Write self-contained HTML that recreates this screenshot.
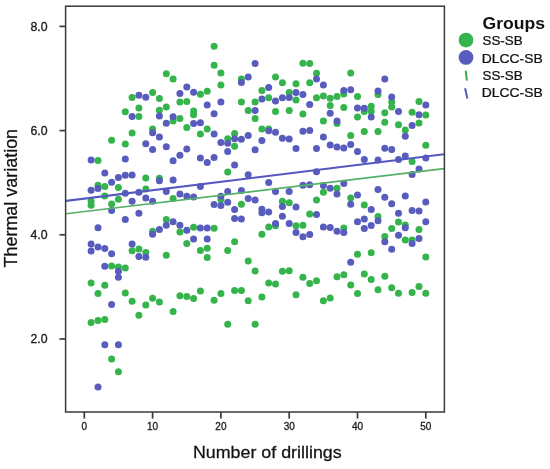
<!DOCTYPE html>
<html><head><meta charset="utf-8"><style>
html,body{margin:0;padding:0;background:#fff;}
body{width:550px;height:469px;overflow:hidden;}
svg{display:block;font-family:"Liberation Sans",Arial,sans-serif;}
</style></head><body>
<svg width="550" height="469" viewBox="0 0 550 469">
<rect width="550" height="469" fill="#fff"/>
<g fill="#34b44b">
<circle cx="91.1" cy="201.3" r="3.5"/>
<circle cx="91.1" cy="205.3" r="3.5"/>
<circle cx="91.1" cy="282.9" r="3.5"/>
<circle cx="91.1" cy="322.5" r="3.5"/>
<circle cx="98.0" cy="160.5" r="3.5"/>
<circle cx="98.0" cy="185.3" r="3.5"/>
<circle cx="98.0" cy="293.5" r="3.5"/>
<circle cx="98.0" cy="320.5" r="3.5"/>
<circle cx="104.8" cy="186.5" r="3.5"/>
<circle cx="104.8" cy="195.9" r="3.5"/>
<circle cx="104.8" cy="285.3" r="3.5"/>
<circle cx="104.8" cy="319.6" r="3.5"/>
<circle cx="111.6" cy="140.2" r="3.5"/>
<circle cx="111.6" cy="203.9" r="3.5"/>
<circle cx="111.6" cy="265.9" r="3.5"/>
<circle cx="111.6" cy="358.9" r="3.5"/>
<circle cx="118.4" cy="187.6" r="3.5"/>
<circle cx="118.4" cy="199.3" r="3.5"/>
<circle cx="118.4" cy="267.1" r="3.5"/>
<circle cx="118.4" cy="371.7" r="3.5"/>
<circle cx="125.3" cy="111.8" r="3.5"/>
<circle cx="125.3" cy="144.1" r="3.5"/>
<circle cx="125.3" cy="267.9" r="3.5"/>
<circle cx="125.3" cy="293.0" r="3.5"/>
<circle cx="132.1" cy="97.4" r="3.5"/>
<circle cx="132.1" cy="133.0" r="3.5"/>
<circle cx="132.1" cy="250.8" r="3.5"/>
<circle cx="132.1" cy="301.2" r="3.5"/>
<circle cx="138.9" cy="108.0" r="3.5"/>
<circle cx="138.9" cy="116.5" r="3.5"/>
<circle cx="138.9" cy="249.1" r="3.5"/>
<circle cx="138.9" cy="315.3" r="3.5"/>
<circle cx="145.8" cy="177.9" r="3.5"/>
<circle cx="145.8" cy="188.9" r="3.5"/>
<circle cx="145.8" cy="252.6" r="3.5"/>
<circle cx="145.8" cy="304.9" r="3.5"/>
<circle cx="152.6" cy="92.6" r="3.5"/>
<circle cx="152.6" cy="129.1" r="3.5"/>
<circle cx="152.6" cy="231.2" r="3.5"/>
<circle cx="152.6" cy="298.3" r="3.5"/>
<circle cx="159.4" cy="98.6" r="3.5"/>
<circle cx="159.4" cy="110.3" r="3.5"/>
<circle cx="159.4" cy="178.2" r="3.5"/>
<circle cx="159.4" cy="302.0" r="3.5"/>
<circle cx="166.3" cy="73.8" r="3.5"/>
<circle cx="166.3" cy="107.1" r="3.5"/>
<circle cx="166.3" cy="219.6" r="3.5"/>
<circle cx="166.3" cy="255.3" r="3.5"/>
<circle cx="173.1" cy="78.9" r="3.5"/>
<circle cx="173.1" cy="121.1" r="3.5"/>
<circle cx="173.1" cy="198.4" r="3.5"/>
<circle cx="173.1" cy="311.4" r="3.5"/>
<circle cx="179.9" cy="102.0" r="3.5"/>
<circle cx="179.9" cy="118.5" r="3.5"/>
<circle cx="179.9" cy="232.0" r="3.5"/>
<circle cx="179.9" cy="295.7" r="3.5"/>
<circle cx="186.8" cy="101.6" r="3.5"/>
<circle cx="186.8" cy="127.6" r="3.5"/>
<circle cx="186.8" cy="243.6" r="3.5"/>
<circle cx="186.8" cy="296.4" r="3.5"/>
<circle cx="193.6" cy="111.0" r="3.5"/>
<circle cx="193.6" cy="114.7" r="3.5"/>
<circle cx="193.6" cy="227.3" r="3.5"/>
<circle cx="193.6" cy="298.6" r="3.5"/>
<circle cx="200.4" cy="94.3" r="3.5"/>
<circle cx="200.4" cy="133.9" r="3.5"/>
<circle cx="200.4" cy="250.5" r="3.5"/>
<circle cx="200.4" cy="291.0" r="3.5"/>
<circle cx="207.2" cy="91.2" r="3.5"/>
<circle cx="207.2" cy="129.1" r="3.5"/>
<circle cx="207.2" cy="248.2" r="3.5"/>
<circle cx="207.2" cy="257.4" r="3.5"/>
<circle cx="214.1" cy="46.2" r="3.5"/>
<circle cx="214.1" cy="65.3" r="3.5"/>
<circle cx="214.1" cy="228.3" r="3.5"/>
<circle cx="214.1" cy="300.3" r="3.5"/>
<circle cx="220.9" cy="73.0" r="3.5"/>
<circle cx="220.9" cy="84.9" r="3.5"/>
<circle cx="220.9" cy="199.6" r="3.5"/>
<circle cx="220.9" cy="293.5" r="3.5"/>
<circle cx="227.7" cy="138.7" r="3.5"/>
<circle cx="227.7" cy="171.9" r="3.5"/>
<circle cx="227.7" cy="250.5" r="3.5"/>
<circle cx="227.7" cy="324.2" r="3.5"/>
<circle cx="234.6" cy="133.4" r="3.5"/>
<circle cx="234.6" cy="146.3" r="3.5"/>
<circle cx="234.6" cy="241.8" r="3.5"/>
<circle cx="234.6" cy="290.4" r="3.5"/>
<circle cx="241.4" cy="78.9" r="3.5"/>
<circle cx="241.4" cy="102.0" r="3.5"/>
<circle cx="241.4" cy="204.2" r="3.5"/>
<circle cx="241.4" cy="290.4" r="3.5"/>
<circle cx="248.2" cy="110.5" r="3.5"/>
<circle cx="248.2" cy="261.0" r="3.5"/>
<circle cx="248.2" cy="300.8" r="3.5"/>
<circle cx="255.1" cy="102.0" r="3.5"/>
<circle cx="255.1" cy="118.4" r="3.5"/>
<circle cx="255.1" cy="271.0" r="3.5"/>
<circle cx="255.1" cy="324.2" r="3.5"/>
<circle cx="261.9" cy="90.6" r="3.5"/>
<circle cx="261.9" cy="129.1" r="3.5"/>
<circle cx="261.9" cy="234.3" r="3.5"/>
<circle cx="261.9" cy="296.9" r="3.5"/>
<circle cx="268.7" cy="97.7" r="3.5"/>
<circle cx="268.7" cy="129.1" r="3.5"/>
<circle cx="268.7" cy="226.9" r="3.5"/>
<circle cx="268.7" cy="282.9" r="3.5"/>
<circle cx="275.5" cy="76.9" r="3.5"/>
<circle cx="275.5" cy="111.4" r="3.5"/>
<circle cx="275.5" cy="225.7" r="3.5"/>
<circle cx="275.5" cy="284.1" r="3.5"/>
<circle cx="282.4" cy="82.7" r="3.5"/>
<circle cx="282.4" cy="201.3" r="3.5"/>
<circle cx="282.4" cy="271.3" r="3.5"/>
<circle cx="289.2" cy="92.6" r="3.5"/>
<circle cx="289.2" cy="110.5" r="3.5"/>
<circle cx="289.2" cy="202.7" r="3.5"/>
<circle cx="289.2" cy="270.8" r="3.5"/>
<circle cx="296.0" cy="83.7" r="3.5"/>
<circle cx="296.0" cy="99.9" r="3.5"/>
<circle cx="296.0" cy="225.7" r="3.5"/>
<circle cx="296.0" cy="294.7" r="3.5"/>
<circle cx="302.9" cy="63.3" r="3.5"/>
<circle cx="302.9" cy="113.9" r="3.5"/>
<circle cx="302.9" cy="225.2" r="3.5"/>
<circle cx="302.9" cy="277.3" r="3.5"/>
<circle cx="309.7" cy="63.6" r="3.5"/>
<circle cx="309.7" cy="82.7" r="3.5"/>
<circle cx="309.7" cy="214.1" r="3.5"/>
<circle cx="309.7" cy="283.6" r="3.5"/>
<circle cx="316.5" cy="73.3" r="3.5"/>
<circle cx="316.5" cy="97.7" r="3.5"/>
<circle cx="316.5" cy="200.1" r="3.5"/>
<circle cx="316.5" cy="280.7" r="3.5"/>
<circle cx="323.4" cy="96.0" r="3.5"/>
<circle cx="323.4" cy="121.1" r="3.5"/>
<circle cx="323.4" cy="192.3" r="3.5"/>
<circle cx="323.4" cy="300.8" r="3.5"/>
<circle cx="330.2" cy="98.2" r="3.5"/>
<circle cx="330.2" cy="105.4" r="3.5"/>
<circle cx="330.2" cy="298.1" r="3.5"/>
<circle cx="337.0" cy="96.4" r="3.5"/>
<circle cx="337.0" cy="123.5" r="3.5"/>
<circle cx="337.0" cy="188.2" r="3.5"/>
<circle cx="337.0" cy="276.8" r="3.5"/>
<circle cx="343.8" cy="94.0" r="3.5"/>
<circle cx="343.8" cy="107.6" r="3.5"/>
<circle cx="343.8" cy="228.1" r="3.5"/>
<circle cx="343.8" cy="274.7" r="3.5"/>
<circle cx="350.7" cy="73.0" r="3.5"/>
<circle cx="350.7" cy="135.6" r="3.5"/>
<circle cx="350.7" cy="197.9" r="3.5"/>
<circle cx="350.7" cy="285.0" r="3.5"/>
<circle cx="357.5" cy="96.4" r="3.5"/>
<circle cx="357.5" cy="117.0" r="3.5"/>
<circle cx="357.5" cy="254.3" r="3.5"/>
<circle cx="357.5" cy="293.5" r="3.5"/>
<circle cx="364.3" cy="111.5" r="3.5"/>
<circle cx="364.3" cy="131.6" r="3.5"/>
<circle cx="364.3" cy="205.0" r="3.5"/>
<circle cx="364.3" cy="274.1" r="3.5"/>
<circle cx="371.2" cy="106.3" r="3.5"/>
<circle cx="371.2" cy="111.3" r="3.5"/>
<circle cx="371.2" cy="252.8" r="3.5"/>
<circle cx="371.2" cy="279.6" r="3.5"/>
<circle cx="378.0" cy="94.6" r="3.5"/>
<circle cx="378.0" cy="131.6" r="3.5"/>
<circle cx="378.0" cy="216.4" r="3.5"/>
<circle cx="378.0" cy="289.8" r="3.5"/>
<circle cx="384.8" cy="112.7" r="3.5"/>
<circle cx="384.8" cy="122.3" r="3.5"/>
<circle cx="384.8" cy="236.5" r="3.5"/>
<circle cx="384.8" cy="276.2" r="3.5"/>
<circle cx="391.7" cy="102.1" r="3.5"/>
<circle cx="391.7" cy="107.1" r="3.5"/>
<circle cx="391.7" cy="228.4" r="3.5"/>
<circle cx="391.7" cy="287.8" r="3.5"/>
<circle cx="398.5" cy="124.7" r="3.5"/>
<circle cx="398.5" cy="222.0" r="3.5"/>
<circle cx="398.5" cy="293.2" r="3.5"/>
<circle cx="405.3" cy="130.0" r="3.5"/>
<circle cx="405.3" cy="225.0" r="3.5"/>
<circle cx="405.3" cy="240.0" r="3.5"/>
<circle cx="412.1" cy="112.3" r="3.5"/>
<circle cx="412.1" cy="161.4" r="3.5"/>
<circle cx="412.1" cy="240.0" r="3.5"/>
<circle cx="412.1" cy="292.6" r="3.5"/>
<circle cx="419.0" cy="101.6" r="3.5"/>
<circle cx="419.0" cy="123.0" r="3.5"/>
<circle cx="419.0" cy="229.4" r="3.5"/>
<circle cx="419.0" cy="286.4" r="3.5"/>
<circle cx="425.8" cy="115.0" r="3.5"/>
<circle cx="425.8" cy="145.2" r="3.5"/>
<circle cx="425.8" cy="257.1" r="3.5"/>
<circle cx="425.8" cy="293.2" r="3.5"/>
</g>
<g fill="#575cbd">
<circle cx="91.1" cy="160.0" r="3.5"/>
<circle cx="91.1" cy="190.3" r="3.5"/>
<circle cx="91.1" cy="244.0" r="3.5"/>
<circle cx="91.1" cy="251.0" r="3.5"/>
<circle cx="98.0" cy="188.5" r="3.5"/>
<circle cx="98.0" cy="227.8" r="3.5"/>
<circle cx="98.0" cy="246.9" r="3.5"/>
<circle cx="98.0" cy="386.9" r="3.5"/>
<circle cx="104.8" cy="173.1" r="3.5"/>
<circle cx="104.8" cy="248.6" r="3.5"/>
<circle cx="104.8" cy="266.2" r="3.5"/>
<circle cx="104.8" cy="344.7" r="3.5"/>
<circle cx="111.6" cy="182.2" r="3.5"/>
<circle cx="111.6" cy="210.4" r="3.5"/>
<circle cx="111.6" cy="253.7" r="3.5"/>
<circle cx="111.6" cy="304.6" r="3.5"/>
<circle cx="118.4" cy="177.4" r="3.5"/>
<circle cx="118.4" cy="271.3" r="3.5"/>
<circle cx="118.4" cy="277.3" r="3.5"/>
<circle cx="118.4" cy="344.7" r="3.5"/>
<circle cx="125.3" cy="159.0" r="3.5"/>
<circle cx="125.3" cy="175.3" r="3.5"/>
<circle cx="125.3" cy="193.3" r="3.5"/>
<circle cx="125.3" cy="219.6" r="3.5"/>
<circle cx="132.1" cy="116.5" r="3.5"/>
<circle cx="132.1" cy="175.0" r="3.5"/>
<circle cx="132.1" cy="201.3" r="3.5"/>
<circle cx="132.1" cy="244.0" r="3.5"/>
<circle cx="138.9" cy="95.2" r="3.5"/>
<circle cx="138.9" cy="192.3" r="3.5"/>
<circle cx="138.9" cy="213.3" r="3.5"/>
<circle cx="138.9" cy="256.5" r="3.5"/>
<circle cx="145.8" cy="97.2" r="3.5"/>
<circle cx="145.8" cy="143.8" r="3.5"/>
<circle cx="145.8" cy="197.9" r="3.5"/>
<circle cx="145.8" cy="257.3" r="3.5"/>
<circle cx="152.6" cy="132.7" r="3.5"/>
<circle cx="152.6" cy="149.6" r="3.5"/>
<circle cx="152.6" cy="201.3" r="3.5"/>
<circle cx="152.6" cy="234.3" r="3.5"/>
<circle cx="159.4" cy="116.0" r="3.5"/>
<circle cx="159.4" cy="137.0" r="3.5"/>
<circle cx="159.4" cy="180.8" r="3.5"/>
<circle cx="159.4" cy="229.5" r="3.5"/>
<circle cx="166.3" cy="123.3" r="3.5"/>
<circle cx="166.3" cy="146.7" r="3.5"/>
<circle cx="166.3" cy="191.6" r="3.5"/>
<circle cx="166.3" cy="225.2" r="3.5"/>
<circle cx="173.1" cy="116.8" r="3.5"/>
<circle cx="173.1" cy="160.8" r="3.5"/>
<circle cx="173.1" cy="180.0" r="3.5"/>
<circle cx="173.1" cy="221.8" r="3.5"/>
<circle cx="179.9" cy="93.5" r="3.5"/>
<circle cx="179.9" cy="155.2" r="3.5"/>
<circle cx="179.9" cy="194.0" r="3.5"/>
<circle cx="179.9" cy="225.2" r="3.5"/>
<circle cx="186.8" cy="87.0" r="3.5"/>
<circle cx="186.8" cy="148.9" r="3.5"/>
<circle cx="186.8" cy="196.2" r="3.5"/>
<circle cx="186.8" cy="230.3" r="3.5"/>
<circle cx="193.6" cy="92.3" r="3.5"/>
<circle cx="193.6" cy="123.6" r="3.5"/>
<circle cx="193.6" cy="197.1" r="3.5"/>
<circle cx="193.6" cy="238.9" r="3.5"/>
<circle cx="200.4" cy="122.8" r="3.5"/>
<circle cx="200.4" cy="158.1" r="3.5"/>
<circle cx="200.4" cy="186.6" r="3.5"/>
<circle cx="200.4" cy="228.1" r="3.5"/>
<circle cx="207.2" cy="105.1" r="3.5"/>
<circle cx="207.2" cy="162.6" r="3.5"/>
<circle cx="207.2" cy="228.1" r="3.5"/>
<circle cx="207.2" cy="238.9" r="3.5"/>
<circle cx="214.1" cy="113.7" r="3.5"/>
<circle cx="214.1" cy="133.9" r="3.5"/>
<circle cx="214.1" cy="157.4" r="3.5"/>
<circle cx="214.1" cy="204.4" r="3.5"/>
<circle cx="220.9" cy="102.0" r="3.5"/>
<circle cx="220.9" cy="142.4" r="3.5"/>
<circle cx="220.9" cy="196.2" r="3.5"/>
<circle cx="220.9" cy="205.6" r="3.5"/>
<circle cx="227.7" cy="143.3" r="3.5"/>
<circle cx="227.7" cy="151.5" r="3.5"/>
<circle cx="227.7" cy="191.6" r="3.5"/>
<circle cx="227.7" cy="202.2" r="3.5"/>
<circle cx="234.6" cy="138.7" r="3.5"/>
<circle cx="234.6" cy="165.1" r="3.5"/>
<circle cx="234.6" cy="209.5" r="3.5"/>
<circle cx="234.6" cy="218.4" r="3.5"/>
<circle cx="241.4" cy="82.4" r="3.5"/>
<circle cx="241.4" cy="139.3" r="3.5"/>
<circle cx="241.4" cy="190.6" r="3.5"/>
<circle cx="241.4" cy="218.9" r="3.5"/>
<circle cx="248.2" cy="76.9" r="3.5"/>
<circle cx="248.2" cy="135.6" r="3.5"/>
<circle cx="248.2" cy="174.8" r="3.5"/>
<circle cx="248.2" cy="198.4" r="3.5"/>
<circle cx="255.1" cy="63.6" r="3.5"/>
<circle cx="255.1" cy="110.5" r="3.5"/>
<circle cx="255.1" cy="149.8" r="3.5"/>
<circle cx="255.1" cy="200.1" r="3.5"/>
<circle cx="261.9" cy="99.1" r="3.5"/>
<circle cx="261.9" cy="140.4" r="3.5"/>
<circle cx="261.9" cy="209.3" r="3.5"/>
<circle cx="261.9" cy="212.8" r="3.5"/>
<circle cx="268.7" cy="87.5" r="3.5"/>
<circle cx="268.7" cy="130.8" r="3.5"/>
<circle cx="268.7" cy="182.4" r="3.5"/>
<circle cx="268.7" cy="212.1" r="3.5"/>
<circle cx="275.5" cy="101.1" r="3.5"/>
<circle cx="275.5" cy="132.2" r="3.5"/>
<circle cx="275.5" cy="191.6" r="3.5"/>
<circle cx="275.5" cy="223.5" r="3.5"/>
<circle cx="282.4" cy="97.7" r="3.5"/>
<circle cx="282.4" cy="138.2" r="3.5"/>
<circle cx="282.4" cy="206.4" r="3.5"/>
<circle cx="282.4" cy="216.2" r="3.5"/>
<circle cx="289.2" cy="97.4" r="3.5"/>
<circle cx="289.2" cy="139.0" r="3.5"/>
<circle cx="289.2" cy="191.6" r="3.5"/>
<circle cx="289.2" cy="223.5" r="3.5"/>
<circle cx="296.0" cy="92.6" r="3.5"/>
<circle cx="296.0" cy="148.4" r="3.5"/>
<circle cx="296.0" cy="207.0" r="3.5"/>
<circle cx="296.0" cy="232.6" r="3.5"/>
<circle cx="302.9" cy="94.6" r="3.5"/>
<circle cx="302.9" cy="131.3" r="3.5"/>
<circle cx="302.9" cy="185.3" r="3.5"/>
<circle cx="302.9" cy="236.8" r="3.5"/>
<circle cx="309.7" cy="104.5" r="3.5"/>
<circle cx="309.7" cy="130.5" r="3.5"/>
<circle cx="309.7" cy="184.7" r="3.5"/>
<circle cx="309.7" cy="234.6" r="3.5"/>
<circle cx="316.5" cy="78.9" r="3.5"/>
<circle cx="316.5" cy="148.4" r="3.5"/>
<circle cx="316.5" cy="171.8" r="3.5"/>
<circle cx="316.5" cy="214.5" r="3.5"/>
<circle cx="323.4" cy="84.9" r="3.5"/>
<circle cx="323.4" cy="137.0" r="3.5"/>
<circle cx="323.4" cy="185.5" r="3.5"/>
<circle cx="323.4" cy="226.9" r="3.5"/>
<circle cx="330.2" cy="113.2" r="3.5"/>
<circle cx="330.2" cy="145.0" r="3.5"/>
<circle cx="330.2" cy="188.3" r="3.5"/>
<circle cx="330.2" cy="227.4" r="3.5"/>
<circle cx="337.0" cy="121.1" r="3.5"/>
<circle cx="337.0" cy="147.0" r="3.5"/>
<circle cx="337.0" cy="194.0" r="3.5"/>
<circle cx="337.0" cy="231.2" r="3.5"/>
<circle cx="343.8" cy="90.6" r="3.5"/>
<circle cx="343.8" cy="148.0" r="3.5"/>
<circle cx="343.8" cy="183.4" r="3.5"/>
<circle cx="343.8" cy="232.6" r="3.5"/>
<circle cx="350.7" cy="89.7" r="3.5"/>
<circle cx="350.7" cy="144.5" r="3.5"/>
<circle cx="350.7" cy="204.2" r="3.5"/>
<circle cx="350.7" cy="262.3" r="3.5"/>
<circle cx="357.5" cy="108.0" r="3.5"/>
<circle cx="357.5" cy="151.5" r="3.5"/>
<circle cx="357.5" cy="195.0" r="3.5"/>
<circle cx="357.5" cy="221.8" r="3.5"/>
<circle cx="364.3" cy="108.3" r="3.5"/>
<circle cx="364.3" cy="159.4" r="3.5"/>
<circle cx="364.3" cy="219.0" r="3.5"/>
<circle cx="364.3" cy="228.4" r="3.5"/>
<circle cx="371.2" cy="117.0" r="3.5"/>
<circle cx="371.2" cy="209.6" r="3.5"/>
<circle cx="371.2" cy="225.5" r="3.5"/>
<circle cx="378.0" cy="90.9" r="3.5"/>
<circle cx="378.0" cy="160.1" r="3.5"/>
<circle cx="378.0" cy="189.6" r="3.5"/>
<circle cx="378.0" cy="220.8" r="3.5"/>
<circle cx="384.8" cy="78.9" r="3.5"/>
<circle cx="384.8" cy="148.3" r="3.5"/>
<circle cx="384.8" cy="197.3" r="3.5"/>
<circle cx="384.8" cy="241.7" r="3.5"/>
<circle cx="391.7" cy="96.9" r="3.5"/>
<circle cx="391.7" cy="149.5" r="3.5"/>
<circle cx="391.7" cy="203.8" r="3.5"/>
<circle cx="391.7" cy="249.2" r="3.5"/>
<circle cx="398.5" cy="111.4" r="3.5"/>
<circle cx="398.5" cy="159.4" r="3.5"/>
<circle cx="398.5" cy="213.2" r="3.5"/>
<circle cx="398.5" cy="235.3" r="3.5"/>
<circle cx="405.3" cy="136.2" r="3.5"/>
<circle cx="405.3" cy="156.0" r="3.5"/>
<circle cx="405.3" cy="195.9" r="3.5"/>
<circle cx="405.3" cy="227.7" r="3.5"/>
<circle cx="412.1" cy="125.6" r="3.5"/>
<circle cx="412.1" cy="174.5" r="3.5"/>
<circle cx="412.1" cy="210.4" r="3.5"/>
<circle cx="412.1" cy="243.5" r="3.5"/>
<circle cx="419.0" cy="114.7" r="3.5"/>
<circle cx="419.0" cy="169.1" r="3.5"/>
<circle cx="419.0" cy="210.9" r="3.5"/>
<circle cx="419.0" cy="238.6" r="3.5"/>
<circle cx="425.8" cy="105.1" r="3.5"/>
<circle cx="425.8" cy="158.0" r="3.5"/>
<circle cx="425.8" cy="202.1" r="3.5"/>
<circle cx="425.8" cy="221.7" r="3.5"/>
</g>
<line x1="66" y1="213.8" x2="444" y2="168.6" stroke="#55b269" stroke-width="1.6"/>
<line x1="66" y1="200.9" x2="444" y2="154.3" stroke="#5558c0" stroke-width="2.1"/>
<rect x="65.6" y="6.2" width="378.8" height="405.8" fill="none" stroke="#3a3a3a" stroke-width="1.5"/>
<g stroke="#3a3a3a" stroke-width="1.7">
<line x1="59.5" y1="26.4" x2="65.6" y2="26.4"/>
<line x1="59.5" y1="130.6" x2="65.6" y2="130.6"/>
<line x1="59.5" y1="234.8" x2="65.6" y2="234.8"/>
<line x1="59.5" y1="339.0" x2="65.6" y2="339.0"/>
<line x1="84.3" y1="412" x2="84.3" y2="418.6"/>
<line x1="152.6" y1="412" x2="152.6" y2="418.6"/>
<line x1="220.9" y1="412" x2="220.9" y2="418.6"/>
<line x1="289.2" y1="412" x2="289.2" y2="418.6"/>
<line x1="357.5" y1="412" x2="357.5" y2="418.6"/>
<line x1="425.8" y1="412" x2="425.8" y2="418.6"/>
</g>
<g font-size="12.3" fill="#1a1a1a" stroke="#1a1a1a" stroke-width="0.3">
<text x="47.5" y="30.7" text-anchor="end">8.0</text>
<text x="47.5" y="134.9" text-anchor="end">6.0</text>
<text x="47.5" y="239.1" text-anchor="end">4.0</text>
<text x="47.5" y="343.3" text-anchor="end">2.0</text>
</g>
<g font-size="10" fill="#1a1a1a" stroke="#1a1a1a" stroke-width="0.3">
<text x="84.3" y="429.9" text-anchor="middle">0</text>
<text x="152.6" y="429.9" text-anchor="middle">10</text>
<text x="220.9" y="429.9" text-anchor="middle">20</text>
<text x="289.2" y="429.9" text-anchor="middle">30</text>
<text x="357.5" y="429.9" text-anchor="middle">40</text>
<text x="425.8" y="429.9" text-anchor="middle">50</text>
</g>
<text x="267.3" y="458.1" font-size="17" text-anchor="middle" fill="#111" stroke="#111" stroke-width="0.25" transform="translate(267.3,0) scale(1.05,1) translate(-267.3,0)">Number of drillings</text>
<text transform="translate(17.0,198.2) rotate(-90) scale(1.025,1)" font-size="17.5" text-anchor="middle" fill="#111" stroke="#111" stroke-width="0.25">Thermal variation</text>
<text x="482.6" y="29.0" font-size="16" font-weight="bold" fill="#111" transform="translate(482.6,0) scale(1.10,1) translate(-482.6,0)">Groups</text>
<circle cx="466" cy="40.1" r="7.4" fill="#34b44b"/>
<circle cx="466" cy="57.4" r="7.4" fill="#575cbd"/>
<line x1="465.7" y1="70.7" x2="466.9" y2="80.6" stroke="#3aa852" stroke-width="2"/>
<line x1="465.1" y1="88.3" x2="467.4" y2="98.6" stroke="#575cbd" stroke-width="2"/>
<g font-size="12.2" fill="#111" stroke="#111" stroke-width="0.25">
<text x="482.6" y="45.5" transform="translate(482.6,0) scale(1.094,1) translate(-482.6,0)">SS-SB</text>
<text x="481.8" y="62.8" transform="translate(481.8,0) scale(1.137,1) translate(-481.8,0)">DLCC-SB</text>
<text x="482.6" y="80.3" transform="translate(482.6,0) scale(1.094,1) translate(-482.6,0)">SS-SB</text>
<text x="481.8" y="97.1" transform="translate(481.8,0) scale(1.137,1) translate(-481.8,0)">DLCC-SB</text>
</g>
</svg>
</body></html>
